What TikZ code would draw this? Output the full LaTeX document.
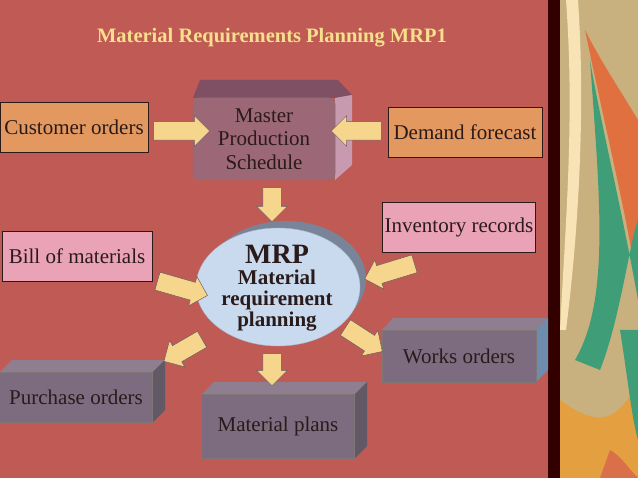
\documentclass[tikz,border=0pt]{standalone}
\usepackage{fontspec}
\setmainfont{Liberation Serif}
\usetikzlibrary{shapes.arrows,shapes.geometric}
\definecolor{bg}{HTML}{C05A55}
\definecolor{org}{HTML}{E2985F}
\definecolor{pnk}{HTML}{E9A2B6}
\definecolor{mauve}{HTML}{9C6878}
\definecolor{grayp}{HTML}{7D6C80}
\definecolor{sideb}{HTML}{6E8CAE}
\definecolor{topg}{HTML}{8E7E90}
\definecolor{yel}{HTML}{F6D68C}
\definecolor{ttl}{HTML}{F6E08C}
\definecolor{ink}{HTML}{2A1A1A}
\definecolor{beige}{HTML}{C9B07F}
\definecolor{cream}{HTML}{F7E3B5}
\definecolor{dorg}{HTML}{E0703F}
\definecolor{grn}{HTML}{3F9E78}
\definecolor{gold}{HTML}{E4A040}
\definecolor{rorg}{HTML}{D9704A}
\definecolor{mpstop}{HTML}{7F5063}
\definecolor{mpsside}{HTML}{C79AB0}
\definecolor{shad}{HTML}{7A8498}
\definecolor{lblue}{HTML}{C9D9EE}
\definecolor{eblue}{HTML}{A8B8D0}
\tikzset{
 flat/.style={draw=ink,line width=0.6pt,minimum height=50pt,inner sep=2pt,text=ink,font=\fontsize{21}{23}\selectfont},
 blk/.style={single arrow,draw=ink!70,line width=0.5pt,fill=yel,inner xsep=0pt,inner ysep=9pt,single arrow head extend=6pt,single arrow head indent=0pt},
 front/.style={draw=ink!60,line width=0.5pt,text=ink,font=\fontsize{21}{23}\selectfont},
}
\begin{document}
\begin{tikzpicture}[x=1pt,y=-1pt]
\useasboundingbox (0,0) rectangle (638,478);
\fill[bg] (0,0) rectangle (548,478);
% right decoration
\fill[black!80!red] (548,0) rectangle (560,478);
\fill[beige] (560,0) rectangle (638,478);
\fill[cream] (566,0) .. controls (575,120) and (565,230) .. (560,330) -- (566,330) .. controls (580,220) and (585,100) .. (578,0) -- cycle;
\fill[dorg] (585,30) .. controls (610,150) and (635,250) .. (638,300) -- (638,120) .. controls (620,90) and (600,60) .. (585,30);
\fill[grn] (590,60) .. controls (600,200) and (610,300) .. (575,360) -- (600,370) .. controls (620,320) and (630,240) .. (638,220) -- (638,300) .. controls (620,200) and (600,120) .. (590,60);
\fill[gold] (560,400) .. controls (600,430) and (620,420) .. (638,380) -- (638,478) -- (560,478) -- cycle;
\fill[grn] (620,330) .. controls (628,380) and (632,420) .. (638,440) -- (638,330) -- cycle;
\fill[rorg] (610,450) .. controls (620,455) and (630,470) .. (638,478) -- (600,478) -- cycle;
% title
\node[text=ttl,font=\bfseries\fontsize{20.5}{22}\selectfont] (title) at (272,38) {Material Requirements Planning MRP1};
% MPS 3D
\fill[mpstop] (200,80) -- (338,80) -- (352,95) -- (335,98) -- (193,98) -- cycle;
\fill[mpsside] (335,98) -- (352,95) -- (352,165) -- (335,180) -- cycle;
\node[front,fill=mauve,rounded corners=6pt,minimum width=142pt,minimum height=82pt,align=center,font=\fontsize{21}{23.5}\selectfont] (mps) at (264,139) {Master\\Production\\Schedule};
% flat boxes
\node[flat,fill=org,minimum width=148pt] (cust) at (74,127) {Customer orders};
\node[flat,fill=org,minimum width=154pt] (dem) at (465,132) {Demand forecast};
\node[flat,fill=pnk,minimum width=152pt] (inv) at (459,227) {Inventory records};
\node[flat,fill=pnk,minimum width=150pt] (bill) at (77,256) {Bill of materials};
% Works orders
\fill[topg] (393,318) -- (548,318) -- (536,330) -- (382,330) -- cycle;
\fill[sideb] (536,330) -- (548,318) -- (548,370) -- (536,382) -- cycle;
\node[front,fill=grayp,minimum width=154pt,minimum height=52pt] (works) at (459,356) {Works orders};
% Purchase orders
\fill[topg] (12,360) -- (165,360) -- (153,372) -- (0,372) -- cycle;
\fill[topg!70!black] (153,372) -- (165,360) -- (165,410) -- (153,422) -- cycle;
\node[front,fill=grayp,minimum width=153pt,minimum height=50pt] (purch) at (76,397) {Purchase orders};
% Material plans
\fill[topg] (214,382) -- (367,382) -- (355,394) -- (202,394) -- cycle;
\fill[topg!70!black] (355,394) -- (367,382) -- (367,446) -- (355,458) -- cycle;
\node[front,fill=grayp,minimum width=153pt,minimum height=64pt] (plans) at (278,426) {Material plans};
% MRP ellipse
\fill[shad] (286,279) ellipse (80 and 58);
\node[ellipse,fill=lblue,draw=eblue,minimum width=164pt,minimum height=118pt,inner sep=0pt] (mrp) at (278,287) {};
\node[align=center,text=ink,font=\bfseries\fontsize{21}{21}\selectfont] (mrpt) at (277,288) {{\fontsize{28}{28}\selectfont MRP}\\Material\\requirement\\planning};
% arrows
\node[blk,minimum height=56pt] (a1) at (177,131) {};
\node[blk,minimum height=50pt,rotate=180] (a2) at (361,131) {};
\node[blk,minimum height=34pt,rotate=-90] (a3) at (272,200) {};
\node[blk,minimum height=52pt,rotate=-16] (a4) at (178,287) {};
\node[blk,minimum height=52pt,rotate=-163] (a5) at (394,270) {};
\node[blk,minimum height=44pt,rotate=-150] (a6) at (187,348) {};
\node[blk,minimum height=32pt,rotate=-90] (a7) at (272,365) {};
\node[blk,minimum height=44pt,rotate=-33] (a8) at (360,337) {};
\end{tikzpicture}
\end{document}
